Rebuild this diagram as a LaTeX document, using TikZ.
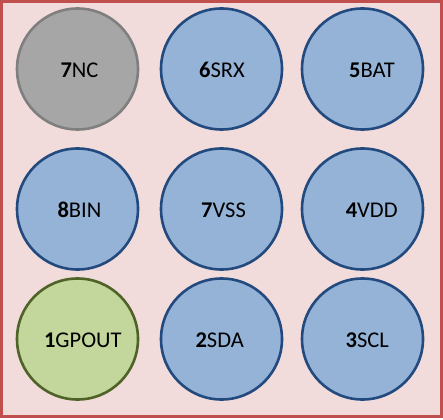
\documentclass[tikz,border=0pt]{standalone}
\usepackage{fontspec}
\setmainfont{Carlito}
\definecolor{pinkfill}{HTML}{F2DCDB}
\definecolor{redline}{HTML}{C0504D}
\definecolor{bluefill}{HTML}{95B3D7}
\definecolor{blueline}{HTML}{224A7E}
\definecolor{grayfill}{HTML}{A6A6A6}
\definecolor{grayline}{HTML}{7F7F7F}
\definecolor{greenfill}{HTML}{C3D69B}
\definecolor{greenline}{HTML}{4F6228}
\tikzset{
  pin/.style={circle, minimum size=121pt, inner sep=0pt, line width=2.6pt, draw=blueline, fill=bluefill},
  pingray/.style={pin, draw=grayline, fill=grayfill},
  pingreen/.style={pin, draw=greenline, fill=greenfill},
  lbl/.style={font=\fontsize{22.5}{26}\selectfont, text=black, inner sep=0pt}
}
\begin{document}
\begin{tikzpicture}[x=1pt,y=-1pt]
\useasboundingbox (0,0) rectangle (443,419);
\node[draw=redline, fill=pinkfill, line width=3pt, minimum width=440pt, minimum height=415pt, inner sep=0pt] (frame) at (221.5,209) {};
\node[pingray] (c1) at (77.5,69) {};
\node[pin] (c2) at (221.5,69) {};
\node[pin] (c3) at (362.5,69) {};
\node[pin] (c4) at (77.5,209) {};
\node[pin] (c5) at (221.5,209) {};
\node[pin] (c6) at (362.5,209) {};
\node[pingreen] (c7) at (77.5,339) {};
\node[pin] (c8) at (221.5,339) {};
\node[pin] (c9) at (362.5,339) {};
\node[lbl] (t1) at ([xshift=2pt,yshift=-1pt]c1) {{\bfseries 7}NC};
\node[lbl] (t2) at ([xshift=0.5pt,yshift=-1pt]c2) {{\bfseries 6}SRX};
\node[lbl] (t3) at ([xshift=9.5pt,yshift=-1pt]c3) {{\bfseries 5}BAT};
\node[lbl] (t4) at ([xshift=2pt,yshift=-1pt]c4) {{\bfseries 8}BIN};
\node[lbl] (t5) at ([xshift=2pt,yshift=-1pt]c5) {{\bfseries 7}VSS};
\node[lbl] (t6) at ([xshift=9.2pt,yshift=-1pt]c6) {{\bfseries 4}VDD};
\node[lbl] (t7) at ([xshift=5.3pt,yshift=-1pt]c7) {{\bfseries 1}GPOUT};
\node[lbl] (t8) at ([xshift=-1.8pt,yshift=-1pt]c8) {{\bfseries 2}SDA};
\node[lbl] (t9) at ([xshift=4.7pt,yshift=-1pt]c9) {{\bfseries 3}SCL};
\end{tikzpicture}
\end{document}
